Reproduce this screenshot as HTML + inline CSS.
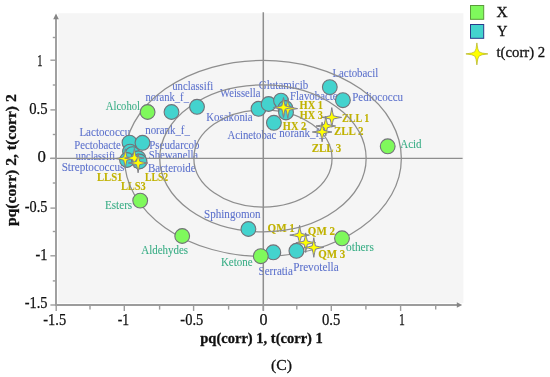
<!DOCTYPE html>
<html><head><meta charset="utf-8"><style>
html,body{margin:0;padding:0;background:#fff;width:550px;height:377px;overflow:hidden}
svg{display:block;font-family:"Liberation Serif","Times New Roman",serif}
</style></head><body>
<svg width="550" height="377" viewBox="0 0 550 377">
<rect x="58.2" y="13.2" width="405.2" height="290" fill="#f5f5f5"/>
<text x="145.56" y="100.50" fill="#5b70cc" font-size="12.2" font-weight="normal" textLength="43.36" lengthAdjust="spacingAndGlyphs" stroke="#5b70cc" stroke-width="0.08">norank_f_</text>
<text x="172.26" y="89.60" fill="#5b70cc" font-size="12.2" font-weight="normal" textLength="40.94" lengthAdjust="spacingAndGlyphs" stroke="#5b70cc" stroke-width="0.08">unclassifi</text>
<text x="219.99" y="96.80" fill="#5b70cc" font-size="12.2" font-weight="normal" textLength="40.45" lengthAdjust="spacingAndGlyphs" stroke="#5b70cc" stroke-width="0.08">Weissella</text>
<text x="258.85" y="88.50" fill="#5b70cc" font-size="12.2" font-weight="normal" textLength="49.47" lengthAdjust="spacingAndGlyphs" stroke="#5b70cc" stroke-width="0.08">Glutamicib</text>
<text x="290.09" y="100.10" fill="#5b70cc" font-size="12.2" font-weight="normal" textLength="47.49" lengthAdjust="spacingAndGlyphs" stroke="#5b70cc" stroke-width="0.08">Flavobacte</text>
<text x="206.19" y="121.00" fill="#5b70cc" font-size="12.2" font-weight="normal" textLength="46.46" lengthAdjust="spacingAndGlyphs" stroke="#5b70cc" stroke-width="0.08">Kosakonia</text>
<text x="227.40" y="139.00" fill="#5b70cc" font-size="12.2" font-weight="normal" textLength="48.94" lengthAdjust="spacingAndGlyphs" stroke="#5b70cc" stroke-width="0.08">Acinetobac</text>
<text x="279.35" y="136.80" fill="#5b70cc" font-size="12.2" font-weight="normal" textLength="45.37" lengthAdjust="spacingAndGlyphs" stroke="#5b70cc" stroke-width="0.08">norank_f_</text>
<text x="332.39" y="76.90" fill="#5b70cc" font-size="12.2" font-weight="normal" textLength="45.83" lengthAdjust="spacingAndGlyphs" stroke="#5b70cc" stroke-width="0.08">Lactobacil</text>
<text x="352.18" y="101.40" fill="#5b70cc" font-size="12.2" font-weight="normal" textLength="50.91" lengthAdjust="spacingAndGlyphs" stroke="#5b70cc" stroke-width="0.08">Pediococcu</text>
<text x="79.38" y="135.70" fill="#5b70cc" font-size="12.2" font-weight="normal" textLength="50.81" lengthAdjust="spacingAndGlyphs" stroke="#5b70cc" stroke-width="0.08">Lactococcu</text>
<text x="74.29" y="149.30" fill="#5b70cc" font-size="12.2" font-weight="normal" textLength="46.58" lengthAdjust="spacingAndGlyphs" stroke="#5b70cc" stroke-width="0.08">Pectobacte</text>
<text x="75.86" y="160.30" fill="#5b70cc" font-size="12.2" font-weight="normal" textLength="39.33" lengthAdjust="spacingAndGlyphs" stroke="#5b70cc" stroke-width="0.08">unclassifi</text>
<text x="61.65" y="170.50" fill="#5b70cc" font-size="12.2" font-weight="normal" textLength="62.75" lengthAdjust="spacingAndGlyphs" stroke="#5b70cc" stroke-width="0.08">Streptococcus</text>
<text x="145.25" y="133.80" fill="#5b70cc" font-size="12.2" font-weight="normal" textLength="44.66" lengthAdjust="spacingAndGlyphs" stroke="#5b70cc" stroke-width="0.08">norank_f_</text>
<text x="149.29" y="149.10" fill="#5b70cc" font-size="12.2" font-weight="normal" textLength="50.23" lengthAdjust="spacingAndGlyphs" stroke="#5b70cc" stroke-width="0.08">Pseudarcob</text>
<text x="148.68" y="158.80" fill="#5b70cc" font-size="12.2" font-weight="normal" textLength="49.46" lengthAdjust="spacingAndGlyphs" stroke="#5b70cc" stroke-width="0.08">Shewanella</text>
<text x="147.98" y="171.90" fill="#5b70cc" font-size="12.2" font-weight="normal" textLength="47.70" lengthAdjust="spacingAndGlyphs" stroke="#5b70cc" stroke-width="0.08">Bacteroide</text>
<text x="204.06" y="218.00" fill="#5b70cc" font-size="12.2" font-weight="normal" textLength="56.61" lengthAdjust="spacingAndGlyphs" stroke="#5b70cc" stroke-width="0.08">Sphingomon</text>
<text x="258.56" y="274.50" fill="#5b70cc" font-size="12.2" font-weight="normal" textLength="34.29" lengthAdjust="spacingAndGlyphs" stroke="#5b70cc" stroke-width="0.08">Serratia</text>
<text x="293.18" y="270.70" fill="#5b70cc" font-size="12.2" font-weight="normal" textLength="45.48" lengthAdjust="spacingAndGlyphs" stroke="#5b70cc" stroke-width="0.08">Prevotella</text>
<text x="105.80" y="109.60" fill="#38ad85" font-size="12.2" font-weight="normal" textLength="34.12" lengthAdjust="spacingAndGlyphs" stroke="#38ad85" stroke-width="0.08">Alcohol</text>
<text x="400.19" y="147.60" fill="#38ad85" font-size="12.2" font-weight="normal" textLength="21.44" lengthAdjust="spacingAndGlyphs" stroke="#38ad85" stroke-width="0.08">Acid</text>
<text x="104.98" y="208.50" fill="#38ad85" font-size="12.2" font-weight="normal" textLength="27.22" lengthAdjust="spacingAndGlyphs" stroke="#38ad85" stroke-width="0.08">Esters</text>
<text x="141.29" y="253.80" fill="#38ad85" font-size="12.2" font-weight="normal" textLength="46.80" lengthAdjust="spacingAndGlyphs" stroke="#38ad85" stroke-width="0.08">Aldehydes</text>
<text x="220.88" y="265.80" fill="#38ad85" font-size="12.2" font-weight="normal" textLength="31.70" lengthAdjust="spacingAndGlyphs" stroke="#38ad85" stroke-width="0.08">Ketone</text>
<text x="346.07" y="250.80" fill="#38ad85" font-size="12.2" font-weight="normal" textLength="27.74" lengthAdjust="spacingAndGlyphs" stroke="#38ad85" stroke-width="0.08">others</text>
<text x="97.02" y="180.80" fill="#c0b200" font-size="12" font-weight="bold" textLength="25.43" lengthAdjust="spacingAndGlyphs" stroke="#c0b200" stroke-width="0.12">LLS1</text>
<text x="120.92" y="189.50" fill="#c0b200" font-size="12" font-weight="bold" textLength="24.93" lengthAdjust="spacingAndGlyphs" stroke="#c0b200" stroke-width="0.12">LLS3</text>
<text x="145.03" y="180.90" fill="#c0b200" font-size="12" font-weight="bold" textLength="23.18" lengthAdjust="spacingAndGlyphs" stroke="#c0b200" stroke-width="0.12">LLS2</text>
<text x="299.52" y="108.90" fill="#c0b200" font-size="12" font-weight="bold" textLength="23.52" lengthAdjust="spacingAndGlyphs" stroke="#c0b200" stroke-width="0.12">HX 1</text>
<text x="299.83" y="119.30" fill="#c0b200" font-size="12" font-weight="bold" textLength="23.02" lengthAdjust="spacingAndGlyphs" stroke="#c0b200" stroke-width="0.12">HX 3</text>
<text x="282.82" y="129.60" fill="#c0b200" font-size="12" font-weight="bold" textLength="23.32" lengthAdjust="spacingAndGlyphs" stroke="#c0b200" stroke-width="0.12">HX 2</text>
<text x="342.03" y="121.50" fill="#c0b200" font-size="12" font-weight="bold" textLength="27.18" lengthAdjust="spacingAndGlyphs" stroke="#c0b200" stroke-width="0.12">ZLL 1</text>
<text x="333.99" y="135.30" fill="#c0b200" font-size="12" font-weight="bold" textLength="29.58" lengthAdjust="spacingAndGlyphs" stroke="#c0b200" stroke-width="0.12">ZLL 2</text>
<text x="311.79" y="151.70" fill="#c0b200" font-size="12" font-weight="bold" textLength="29.48" lengthAdjust="spacingAndGlyphs" stroke="#c0b200" stroke-width="0.12">ZLL 3</text>
<text x="267.56" y="231.60" fill="#c0b200" font-size="12" font-weight="bold" textLength="27.31" lengthAdjust="spacingAndGlyphs" stroke="#c0b200" stroke-width="0.12">QM 1</text>
<text x="307.86" y="235.10" fill="#c0b200" font-size="12" font-weight="bold" textLength="27.11" lengthAdjust="spacingAndGlyphs" stroke="#c0b200" stroke-width="0.12">QM 2</text>
<text x="318.26" y="258.00" fill="#c0b200" font-size="12" font-weight="bold" textLength="27.11" lengthAdjust="spacingAndGlyphs" stroke="#c0b200" stroke-width="0.12">QM 3</text>
<ellipse cx="262.95" cy="158.4" rx="138.4" ry="98.0" fill="none" stroke="#8e8e8e" stroke-width="1.25"/>
<ellipse cx="262.95" cy="158.4" rx="103.2" ry="73.4" fill="none" stroke="#8e8e8e" stroke-width="1.25"/>
<ellipse cx="262.95" cy="158.4" rx="69.1" ry="48.6" fill="none" stroke="#8e8e8e" stroke-width="1.25"/>
<line x1="50.2" y1="158.4" x2="462.6" y2="158.4" stroke="#8e8e8e" stroke-width="1.4"/>
<line x1="263.3" y1="12.2" x2="263.3" y2="310.8" stroke="#8e8e8e" stroke-width="1.5"/>
<line x1="56" y1="18" x2="56" y2="305.5" stroke="#9c9c9c" stroke-width="1.9"/>
<path d="M53.2,19.2 L56,13.4 L58.8,19.2 Z" fill="#858585"/>
<line x1="55" y1="305" x2="458" y2="305" stroke="#9c9c9c" stroke-width="1.9"/>
<path d="M456.8,302.2 L462.2,305 L456.8,307.8 Z" fill="#858585"/>
<line x1="52.8" y1="37.50" x2="56" y2="37.50" stroke="#9c9c9c" stroke-width="1.4"/>
<line x1="50.4" y1="60.20" x2="56" y2="60.20" stroke="#9c9c9c" stroke-width="1.4"/>
<line x1="52.8" y1="85.00" x2="56" y2="85.00" stroke="#9c9c9c" stroke-width="1.4"/>
<line x1="50.4" y1="109.90" x2="56" y2="109.90" stroke="#9c9c9c" stroke-width="1.4"/>
<line x1="52.8" y1="134.50" x2="56" y2="134.50" stroke="#9c9c9c" stroke-width="1.4"/>
<line x1="50.4" y1="158.40" x2="56" y2="158.40" stroke="#9c9c9c" stroke-width="1.4"/>
<line x1="52.8" y1="183.00" x2="56" y2="183.00" stroke="#9c9c9c" stroke-width="1.4"/>
<line x1="50.4" y1="208.10" x2="56" y2="208.10" stroke="#9c9c9c" stroke-width="1.4"/>
<line x1="52.8" y1="231.50" x2="56" y2="231.50" stroke="#9c9c9c" stroke-width="1.4"/>
<line x1="50.4" y1="255.80" x2="56" y2="255.80" stroke="#9c9c9c" stroke-width="1.4"/>
<line x1="52.8" y1="280.90" x2="56" y2="280.90" stroke="#9c9c9c" stroke-width="1.4"/>
<line x1="90.00" y1="305" x2="90.00" y2="309.6" stroke="#9c9c9c" stroke-width="1.4"/>
<line x1="124.30" y1="305" x2="124.30" y2="310.9" stroke="#9c9c9c" stroke-width="1.4"/>
<line x1="159.60" y1="305" x2="159.60" y2="309.6" stroke="#9c9c9c" stroke-width="1.4"/>
<line x1="193.60" y1="305" x2="193.60" y2="310.9" stroke="#9c9c9c" stroke-width="1.4"/>
<line x1="228.60" y1="305" x2="228.60" y2="309.6" stroke="#9c9c9c" stroke-width="1.4"/>
<line x1="263.40" y1="305" x2="263.40" y2="310.9" stroke="#9c9c9c" stroke-width="1.4"/>
<line x1="296.80" y1="305" x2="296.80" y2="309.6" stroke="#9c9c9c" stroke-width="1.4"/>
<line x1="331.30" y1="305" x2="331.30" y2="310.9" stroke="#9c9c9c" stroke-width="1.4"/>
<line x1="365.90" y1="305" x2="365.90" y2="309.6" stroke="#9c9c9c" stroke-width="1.4"/>
<line x1="400.60" y1="305" x2="400.60" y2="310.9" stroke="#9c9c9c" stroke-width="1.4"/>
<line x1="435.70" y1="305" x2="435.70" y2="309.6" stroke="#9c9c9c" stroke-width="1.4"/>
<line x1="56.2" y1="305" x2="56.2" y2="310.9" stroke="#9c9c9c" stroke-width="1.4"/>
<line x1="50.4" y1="305" x2="56" y2="305" stroke="#9c9c9c" stroke-width="1.4"/>
<circle cx="129.5" cy="142.6" r="7.4" fill="#43d3ce" stroke="#727278" stroke-width="1.1"/>
<circle cx="142.5" cy="142.8" r="7.4" fill="#43d3ce" stroke="#727278" stroke-width="1.1"/>
<circle cx="130" cy="151.6" r="7.4" fill="#43d3ce" stroke="#727278" stroke-width="1.1"/>
<circle cx="132.5" cy="154.2" r="7.4" fill="#43d3ce" stroke="#727278" stroke-width="1.1"/>
<circle cx="127" cy="160" r="7.4" fill="#43d3ce" stroke="#727278" stroke-width="1.1"/>
<circle cx="138.5" cy="158.3" r="7.4" fill="#43d3ce" stroke="#727278" stroke-width="1.1"/>
<circle cx="139.5" cy="161.5" r="7.4" fill="#43d3ce" stroke="#727278" stroke-width="1.1"/>
<circle cx="171.5" cy="112" r="7.4" fill="#43d3ce" stroke="#727278" stroke-width="1.1"/>
<circle cx="197" cy="106.8" r="7.4" fill="#43d3ce" stroke="#727278" stroke-width="1.1"/>
<circle cx="258.5" cy="108.8" r="7.4" fill="#43d3ce" stroke="#727278" stroke-width="1.1"/>
<circle cx="268.6" cy="104" r="7.4" fill="#43d3ce" stroke="#727278" stroke-width="1.1"/>
<circle cx="281" cy="100.6" r="7.4" fill="#43d3ce" stroke="#727278" stroke-width="1.1"/>
<circle cx="285.4" cy="108" r="7.4" fill="#43d3ce" stroke="#727278" stroke-width="1.1"/>
<circle cx="286" cy="112.5" r="7.4" fill="#43d3ce" stroke="#727278" stroke-width="1.1"/>
<circle cx="273.9" cy="122.8" r="7.4" fill="#43d3ce" stroke="#727278" stroke-width="1.1"/>
<circle cx="248.4" cy="229" r="7.4" fill="#43d3ce" stroke="#727278" stroke-width="1.1"/>
<circle cx="273.3" cy="252.3" r="7.4" fill="#43d3ce" stroke="#727278" stroke-width="1.1"/>
<circle cx="296.4" cy="250.8" r="7.4" fill="#43d3ce" stroke="#727278" stroke-width="1.1"/>
<circle cx="147.6" cy="112" r="7.4" fill="#7ff95c" stroke="#727278" stroke-width="1.1"/>
<circle cx="387.7" cy="146.3" r="7.4" fill="#7ff95c" stroke="#727278" stroke-width="1.1"/>
<circle cx="140.2" cy="200.6" r="7.4" fill="#7ff95c" stroke="#727278" stroke-width="1.1"/>
<circle cx="182.2" cy="236" r="7.4" fill="#7ff95c" stroke="#727278" stroke-width="1.1"/>
<circle cx="260.8" cy="256.2" r="7.4" fill="#7ff95c" stroke="#727278" stroke-width="1.1"/>
<circle cx="342" cy="238.3" r="7.4" fill="#7ff95c" stroke="#727278" stroke-width="1.1"/>
<circle cx="329.8" cy="87.1" r="7.4" fill="#43d3ce" stroke="#727278" stroke-width="1.1"/>
<circle cx="342.9" cy="100.2" r="7.4" fill="#43d3ce" stroke="#727278" stroke-width="1.1"/>
<path d="M125.30,148.80 Q126.00,153.73 126.95,156.95 Q130.17,157.90 135.10,158.60 Q130.17,159.30 126.95,160.25 Q126.00,163.47 125.30,168.40 Q124.60,163.47 123.65,160.25 Q120.43,159.30 115.50,158.60 Q120.43,157.90 123.65,156.95 Q124.60,153.73 125.30,148.80 Z" fill="#ffff00" stroke="#80808e" stroke-width="1" stroke-linejoin="miter"/>
<path d="M134.40,148.30 Q135.10,153.23 136.05,156.45 Q139.27,157.40 144.20,158.10 Q139.27,158.80 136.05,159.75 Q135.10,162.97 134.40,167.90 Q133.70,162.97 132.75,159.75 Q129.53,158.80 124.60,158.10 Q129.53,157.40 132.75,156.45 Q133.70,153.23 134.40,148.30 Z" fill="#ffff00" stroke="#80808e" stroke-width="1" stroke-linejoin="miter"/>
<path d="M138.10,153.20 Q138.80,158.13 139.75,161.35 Q142.97,162.30 147.90,163.00 Q142.97,163.70 139.75,164.65 Q138.80,167.87 138.10,172.80 Q137.40,167.87 136.45,164.65 Q133.23,163.70 128.30,163.00 Q133.23,162.30 136.45,161.35 Q137.40,158.13 138.10,153.20 Z" fill="#ffff00" stroke="#80808e" stroke-width="1" stroke-linejoin="miter"/>
<path d="M283.50,97.70 Q284.20,102.63 285.15,105.85 Q288.37,106.80 293.30,107.50 Q288.37,108.20 285.15,109.15 Q284.20,112.37 283.50,117.30 Q282.80,112.37 281.85,109.15 Q278.63,108.20 273.70,107.50 Q278.63,106.80 281.85,105.85 Q282.80,102.63 283.50,97.70 Z" fill="#ffff00" stroke="#80808e" stroke-width="1" stroke-linejoin="miter"/>
<path d="M287.80,98.80 Q288.50,103.73 289.45,106.95 Q292.67,107.90 297.60,108.60 Q292.67,109.30 289.45,110.25 Q288.50,113.47 287.80,118.40 Q287.10,113.47 286.15,110.25 Q282.93,109.30 278.00,108.60 Q282.93,107.90 286.15,106.95 Q287.10,103.73 287.80,98.80 Z" fill="#ffff00" stroke="#80808e" stroke-width="1" stroke-linejoin="miter"/>
<path d="M283.50,97.70 Q284.20,102.63 285.15,105.85 Q288.37,106.80 293.30,107.50 Q288.37,108.20 285.15,109.15 Q284.20,112.37 283.50,117.30 Q282.80,112.37 281.85,109.15 Q278.63,108.20 273.70,107.50 Q278.63,106.80 281.85,105.85 Q282.80,102.63 283.50,97.70 Z" fill="#ffff00" stroke="#80808e" stroke-width="1" stroke-linejoin="miter"/>
<path d="M331.80,107.60 Q332.50,112.53 333.45,115.75 Q336.67,116.70 341.60,117.40 Q336.67,118.10 333.45,119.05 Q332.50,122.27 331.80,127.20 Q331.10,122.27 330.15,119.05 Q326.93,118.10 322.00,117.40 Q326.93,116.70 330.15,115.75 Q331.10,112.53 331.80,107.60 Z" fill="#ffff00" stroke="#80808e" stroke-width="1" stroke-linejoin="miter"/>
<path d="M325.80,116.20 Q326.50,121.13 327.45,124.35 Q330.67,125.30 335.60,126.00 Q330.67,126.70 327.45,127.65 Q326.50,130.87 325.80,135.80 Q325.10,130.87 324.15,127.65 Q320.93,126.70 316.00,126.00 Q320.93,125.30 324.15,124.35 Q325.10,121.13 325.80,116.20 Z" fill="#ffff00" stroke="#80808e" stroke-width="1" stroke-linejoin="miter"/>
<path d="M322.10,122.20 Q322.80,127.13 323.75,130.35 Q326.97,131.30 331.90,132.00 Q326.97,132.70 323.75,133.65 Q322.80,136.87 322.10,141.80 Q321.40,136.87 320.45,133.65 Q317.23,132.70 312.30,132.00 Q317.23,131.30 320.45,130.35 Q321.40,127.13 322.10,122.20 Z" fill="#ffff00" stroke="#80808e" stroke-width="1" stroke-linejoin="miter"/>
<path d="M299.60,225.30 Q300.30,230.23 301.25,233.45 Q304.47,234.40 309.40,235.10 Q304.47,235.80 301.25,236.75 Q300.30,239.97 299.60,244.90 Q298.90,239.97 297.95,236.75 Q294.73,235.80 289.80,235.10 Q294.73,234.40 297.95,233.45 Q298.90,230.23 299.60,225.30 Z" fill="#ffff00" stroke="#80808e" stroke-width="1" stroke-linejoin="miter"/>
<path d="M305.70,232.90 Q306.40,237.83 307.35,241.05 Q310.57,242.00 315.50,242.70 Q310.57,243.40 307.35,244.35 Q306.40,247.57 305.70,252.50 Q305.00,247.57 304.05,244.35 Q300.83,243.40 295.90,242.70 Q300.83,242.00 304.05,241.05 Q305.00,237.83 305.70,232.90 Z" fill="#ffff00" stroke="#80808e" stroke-width="1" stroke-linejoin="miter"/>
<path d="M313.80,237.70 Q314.50,242.63 315.45,245.85 Q318.67,246.80 323.60,247.50 Q318.67,248.20 315.45,249.15 Q314.50,252.37 313.80,257.30 Q313.10,252.37 312.15,249.15 Q308.93,248.20 304.00,247.50 Q308.93,246.80 312.15,245.85 Q313.10,242.63 313.80,237.70 Z" fill="#ffff00" stroke="#80808e" stroke-width="1" stroke-linejoin="miter"/>
<text x="37.28" y="65.60" fill="#111" font-size="16" font-weight="normal" textLength="5.25" lengthAdjust="spacingAndGlyphs" stroke="#111" stroke-width="0.25">1</text>
<text x="29.24" y="113.50" fill="#111" font-size="16" font-weight="normal" textLength="18.33" lengthAdjust="spacingAndGlyphs" stroke="#111" stroke-width="0.25">0.5</text>
<text x="37.56" y="162.10" fill="#111" font-size="16" font-weight="normal" textLength="8.38" lengthAdjust="spacingAndGlyphs" stroke="#111" stroke-width="0.25">0</text>
<text x="24.87" y="211.70" fill="#111" font-size="16" font-weight="normal" textLength="22.59" lengthAdjust="spacingAndGlyphs" stroke="#111" stroke-width="0.25">-0.5</text>
<text x="35.57" y="259.70" fill="#111" font-size="16" font-weight="normal" textLength="12.00" lengthAdjust="spacingAndGlyphs" stroke="#111" stroke-width="0.25">-1</text>
<text x="24.67" y="307.80" fill="#111" font-size="16" font-weight="normal" textLength="22.80" lengthAdjust="spacingAndGlyphs" stroke="#111" stroke-width="0.25">-1.5</text>
<text x="43.26" y="325.30" fill="#111" font-size="16" font-weight="normal" textLength="22.90" lengthAdjust="spacingAndGlyphs" stroke="#111" stroke-width="0.25">-1.5</text>
<text x="117.79" y="324.80" fill="#111" font-size="16" font-weight="normal" textLength="11.43" lengthAdjust="spacingAndGlyphs" stroke="#111" stroke-width="0.25">-1</text>
<text x="180.36" y="325.30" fill="#111" font-size="16" font-weight="normal" textLength="22.90" lengthAdjust="spacingAndGlyphs" stroke="#111" stroke-width="0.25">-0.5</text>
<text x="259.49" y="324.90" fill="#111" font-size="16" font-weight="normal" textLength="8.02" lengthAdjust="spacingAndGlyphs" stroke="#111" stroke-width="0.25">0</text>
<text x="321.94" y="324.90" fill="#111" font-size="16" font-weight="normal" textLength="18.33" lengthAdjust="spacingAndGlyphs" stroke="#111" stroke-width="0.25">0.5</text>
<text x="398.88" y="324.80" fill="#111" font-size="16" font-weight="normal" textLength="5.82" lengthAdjust="spacingAndGlyphs" stroke="#111" stroke-width="0.25">1</text>
<text x="200.22" y="343.20" fill="#111" font-size="14.5" font-weight="bold" textLength="122.64" lengthAdjust="spacingAndGlyphs" stroke="#111" stroke-width="0.3">pq(corr) 1, t(corr) 1</text>
<g transform="translate(16.0,225.9) rotate(-90)"><text x="-0.20" y="0.00" fill="#111" font-size="15.5" font-weight="bold" textLength="131.87" lengthAdjust="spacingAndGlyphs" stroke="#111" stroke-width="0.3">pq(corr) 2, t(corr) 2</text></g>
<text x="270.91" y="370.00" fill="#111" font-size="15.5" font-weight="normal" textLength="20.98" lengthAdjust="spacingAndGlyphs" stroke="#111" stroke-width="0.3">(C)</text>
<rect x="470.5" y="5.5" width="13.2" height="13.8" fill="#7ff95c" stroke="#5a9a3a" stroke-width="1"/>
<rect x="470.5" y="24.5" width="13.2" height="13.8" fill="#43d3ce" stroke="#2a3a8a" stroke-width="1"/>
<path d="M476.90,42.90 Q477.54,49.95 479.05,51.75 Q480.84,53.25 487.90,53.90 Q480.84,54.55 479.05,56.05 Q477.54,57.84 476.90,64.90 Q476.25,57.84 474.75,56.05 Q472.95,54.55 465.90,53.90 Q472.95,53.25 474.75,51.75 Q476.25,49.95 476.90,42.90 Z" fill="#ffff00" stroke="#a8a800" stroke-width="0.6"/>
<text x="496.46" y="17.20" fill="#111" font-size="15.5" font-weight="normal" textLength="11.12" lengthAdjust="spacingAndGlyphs" stroke="#111" stroke-width="0.3">X</text>
<text x="496.94" y="36.30" fill="#111" font-size="15.5" font-weight="normal" textLength="10.43" lengthAdjust="spacingAndGlyphs" stroke="#111" stroke-width="0.3">Y</text>
<text x="496.46" y="57.40" fill="#111" font-size="15.5" font-weight="normal" textLength="48.76" lengthAdjust="spacingAndGlyphs" stroke="#111" stroke-width="0.3">t(corr) 2</text>
</svg>
</body></html>
